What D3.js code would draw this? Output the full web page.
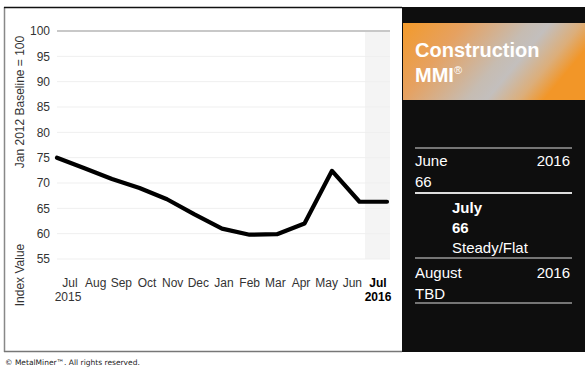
<!DOCTYPE html>
<html>
<head>
<meta charset="utf-8">
<script src="https://cdnjs.cloudflare.com/ajax/libs/d3/7.8.5/d3.min.js"></script>
<style>
  body { margin: 0; background: #fff; }
  svg { display: block; font-family: "Liberation Sans", Arial, sans-serif; }
</style>
</head>
<body>
<div id="chart"></div>
<script>
// data
var months = ["Jul", "Aug", "Sep", "Oct", "Nov", "Dec", "Jan", "Feb", "Mar", "Apr", "May", "Jun", "Jul"];
var years = ["2015", "", "", "", "", "", "", "", "", "", "", "", "2016"];
var values = [75, 72.9, 70.8, 69.0, 66.8, 63.8, 61.0, 59.8, 59.9, 62.0, 72.4, 66.3, 66.3];
var yTicks = [55, 60, 65, 70, 75, 80, 85, 90, 95, 100];
var panelRows = [
  { name: "June", year: "2016", value: "66" },
  { name: "August", year: "2016", value: "TBD" }
];
var current = { name: "July", value: "66", trend: "Steady/Flat" };

var W = 585, H = 372;
var svg = d3.select("#chart").append("svg").attr("width", W).attr("height", H);

var x = d3.scalePoint().domain(d3.range(values.length)).range([57, 387]);
var xLab = d3.scalePoint().domain(d3.range(months.length)).range([70, 378]);
var y = d3.scaleLinear().domain([55, 100]).range([259, 31]);

// frame
svg.append("line").attr("x1", 4.5).attr("x2", 4.5).attr("y1", 7).attr("y2", 352)
  .attr("stroke", "#888").attr("stroke-width", 1.5);
svg.append("line").attr("x1", 4).attr("x2", 402).attr("y1", 7.5).attr("y2", 7.5)
  .attr("stroke", "#111").attr("stroke-width", 1.5);
svg.append("line").attr("x1", 4).attr("x2", 402).attr("y1", 351.5).attr("y2", 351.5)
  .attr("stroke", "#777").attr("stroke-width", 1.5);

// shaded current month band
svg.append("rect").attr("x", 365).attr("y", y(100)).attr("width", 25)
  .attr("height", y(55) - y(100)).attr("fill", "#f4f4f4");

// grid
svg.append("g").selectAll("line").data(yTicks).enter().append("line")
  .attr("x1", 57).attr("x2", 390)
  .attr("y1", function(d){ return y(d); }).attr("y2", function(d){ return y(d); })
  .attr("stroke", function(d){ return d == 100 ? "#c8c8c8" : "#efefef"; })
  .attr("stroke-width", function(d){ return d == 100 ? 2 : 1; });

// y axis
var yAxis = svg.append("g").attr("transform", "translate(50,0)")
  .call(d3.axisLeft(y).tickValues(yTicks).tickSize(0).tickPadding(0));
yAxis.select(".domain").remove();
yAxis.selectAll("text").attr("font-size", 12).attr("fill", "#333")
  .attr("font-family", "Liberation Sans, Arial, sans-serif");

svg.append("text").attr("transform", "translate(24,102) rotate(-90)")
  .attr("text-anchor", "middle").attr("font-size", 12).attr("fill", "#333")
  .text("Jan 2012 Baseline = 100");
svg.append("text").attr("transform", "translate(24,275) rotate(-90)")
  .attr("text-anchor", "middle").attr("font-size", 12).attr("fill", "#333")
  .text("Index Value");

// x labels
var xl = svg.append("g").selectAll("g").data(months).enter().append("g")
  .attr("transform", function(d, i){ return "translate(" + xLab(i) + ",0)"; });
xl.append("text").attr("y", 287).attr("text-anchor", "middle").attr("font-size", 12)
  .attr("font-weight", function(d, i){ return i == months.length - 1 ? "bold" : "normal"; })
  .attr("fill", function(d, i){ return i == months.length - 1 ? "#000" : "#333"; })
  .text(function(d){ return d; });
xl.append("text").attr("y", 301).attr("text-anchor", "middle").attr("font-size", 12)
  .attr("font-weight", function(d, i){ return i == months.length - 1 ? "bold" : "normal"; })
  .attr("fill", function(d, i){ return i == months.length - 1 ? "#000" : "#333"; })
  .attr("dx", function(d, i){ return i == 0 ? -2 : 0; })
  .text(function(d, i){ return years[i]; });

// line
var line = d3.line().x(function(d, i){ return x(i); }).y(function(d){ return y(d); });
svg.append("path").datum(values).attr("d", line)
  .attr("fill", "none").attr("stroke", "#000").attr("stroke-width", 4.2)
  .attr("stroke-linejoin", "round").attr("stroke-linecap", "round");

// copyright
svg.append("text").attr("x", 5).attr("y", 365).attr("font-size", 7.5)
  .attr("font-family", "DejaVu Sans, Verdana, sans-serif").attr("fill", "#222")
  .text("\u00a9 MetalMiner\u2122. All rights reserved.");

// right panel
var px = 402;
svg.append("rect").attr("x", px).attr("y", 7).attr("width", W - px).attr("height", 345)
  .attr("fill", "#0e0e0e");

var defs = svg.append("defs");
var grad = defs.append("linearGradient").attr("id", "mmiGrad")
  .attr("x1", "0").attr("y1", "0").attr("x2", "1").attr("y2", "0.35");
grad.append("stop").attr("offset", "0%").attr("stop-color", "#f39a2a");
grad.append("stop").attr("offset", "30%").attr("stop-color", "#e6a160");
grad.append("stop").attr("offset", "62%").attr("stop-color", "#c6bcb2");
grad.append("stop").attr("offset", "72%").attr("stop-color", "#c3bfbd");
grad.append("stop").attr("offset", "88%").attr("stop-color", "#dcae7a");
grad.append("stop").attr("offset", "100%").attr("stop-color", "#f29628");

svg.append("rect").attr("x", px + 1).attr("y", 23).attr("width", W - px - 1).attr("height", 77)
  .attr("fill", "url(#mmiGrad)");
svg.append("text").attr("x", 415).attr("y", 57).attr("fill", "#fff")
  .attr("font-size", 20).attr("font-weight", "bold").text("Construction");
var mmi = svg.append("text").attr("x", 415).attr("y", 82).attr("fill", "#fff")
  .attr("font-size", 20).attr("font-weight", "bold").text("MMI");
mmi.append("tspan").attr("font-size", 11).attr("font-weight", "normal")
  .attr("dy", -8).text("\u00ae");

// panel rows
var sep = [148, 193, 258, 303];
svg.append("g").selectAll("line").data(sep).enter().append("line")
  .attr("x1", 415).attr("x2", 572)
  .attr("y1", function(d){ return d; }).attr("y2", function(d){ return d; })
  .attr("stroke", function(d, i){ return i == 1 ? "#ddd" : "#999"; })
  .attr("stroke-width", function(d, i){ return i == 1 ? 2 : 1.5; });

var rowTop = [166, 278];
panelRows.forEach(function(r, i){
  svg.append("text").attr("x", 415).attr("y", rowTop[i]).attr("fill", "#fff")
    .attr("font-size", 15).text(r.name);
  svg.append("text").attr("x", 570).attr("y", rowTop[i]).attr("fill", "#fff")
    .attr("text-anchor", "end").attr("font-size", 15).text(r.year);
  svg.append("text").attr("x", 415).attr("y", rowTop[i] + 21).attr("fill", "#fff")
    .attr("font-size", 15).text(r.value);
});
svg.append("text").attr("x", 452).attr("y", 213).attr("fill", "#fff")
  .attr("font-size", 15).attr("font-weight", "bold").text(current.name);
svg.append("text").attr("x", 452).attr("y", 233).attr("fill", "#fff")
  .attr("font-size", 15).attr("font-weight", "bold").text(current.value);
svg.append("text").attr("x", 452).attr("y", 253).attr("fill", "#fff")
  .attr("font-size", 15).text(current.trend);
</script>
</body>
</html>
